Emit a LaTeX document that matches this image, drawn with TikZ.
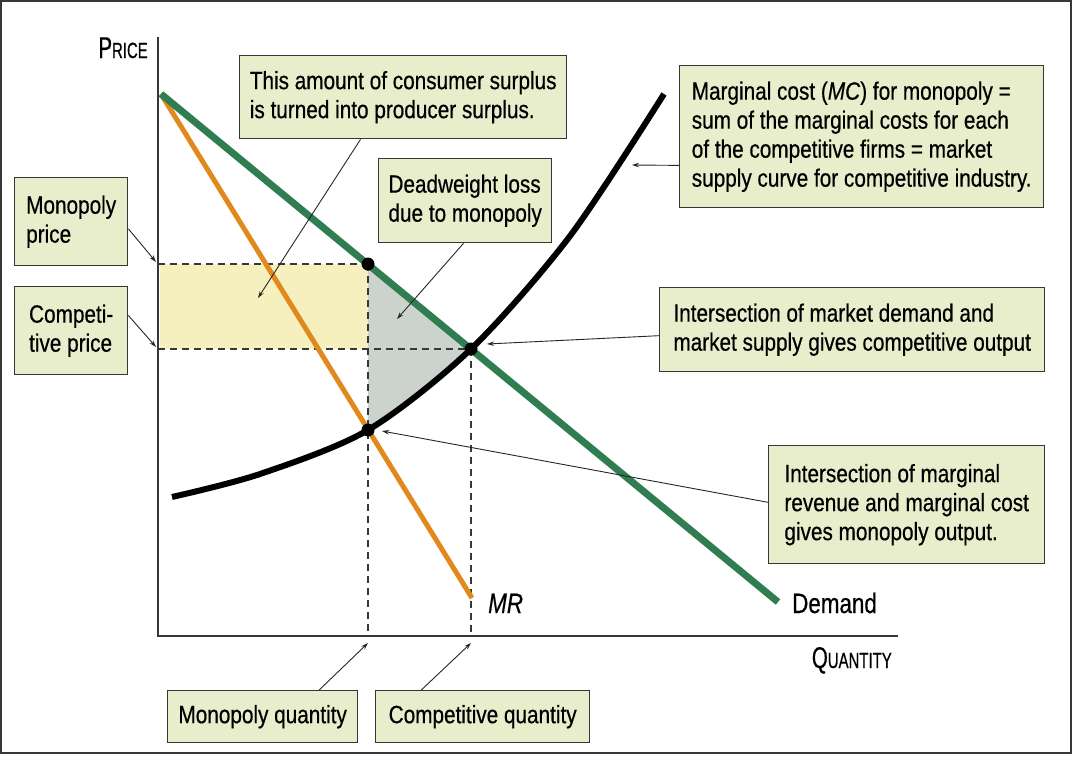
\documentclass[tikz,border=0pt]{standalone}
\usepackage{fontspec}
\setmainfont{Liberation Sans}[FakeStretch=0.83,FakeBold=0.5]
\newfontfamily\condfont{Liberation Sans}[FakeStretch=0.68,FakeBold=0.5]
\newfontfamily\labfont{Liberation Sans}[FakeStretch=0.80,FakeBold=0.5]
\usetikzlibrary{arrows.meta,calc}
\definecolor{boxfill}{RGB}{232,237,204}
\definecolor{demandgreen}{RGB}{47,125,80}
\definecolor{mrorange}{RGB}{226,137,30}
\definecolor{surplusyellow}{RGB}{246,239,190}
\definecolor{dwlgray}{RGB}{203,211,204}
\definecolor{edge}{RGB}{55,55,55}
\begin{document}
\begin{tikzpicture}[x=1pt,y=-1pt,
  box/.style={draw=edge, line width=1.4pt, fill=boxfill, anchor=north west, align=left,
    inner xsep=8pt, inner ysep=0pt, font=\fontsize{25}{29}\selectfont, text=black},
  pointer/.style={draw=black!85, line width=0.9pt, -{Stealth[length=7pt,width=4.5pt]}},
  guide/.style={draw=edge, line width=1.3pt, dash pattern=on 7pt off 5pt},
  axisline/.style={draw=edge, line width=1.5pt},
  curvelabel/.style={font=\labfont\fontsize{28}{28}\selectfont, text=black, inner sep=0pt},
  axislabel/.style={text=black, inner sep=0pt}]
\useasboundingbox (0,0) rectangle (1072,758);
\draw[line width=2pt, edge] (1,1) rectangle (1071,753);

% key points
\coordinate (top) at (161,94);
\coordinate (dend) at (778,602);
\coordinate (mrend) at (472,598);
\coordinate (Pm) at (368,264);
\coordinate (Pc) at (471,349);
\coordinate (Pmc) at (368,430);
\coordinate (ytop) at (158,37);
\coordinate (origin) at (158,636);
\coordinate (xend) at (898,636);

% fills
\fill[surplusyellow] (160,264) rectangle (368,349);
\begin{scope}
  \clip plot[smooth] coordinates {(172,497) (260,474) (368,430) (471,349) (570,236) (664,94)}
     -- (664,0) -- (100,0) -- (100,497) -- cycle;
  \fill[dwlgray] (Pm) -- (Pc) -- (471,470) -- (368,470) -- cycle;
\end{scope}

% guides
\draw[guide] (158,264) -- (Pm);
\draw[guide] (158,349) -- (Pc);
\draw[guide] (Pm) -- (Pm |- origin);
\draw[guide] (Pc) -- (Pc |- origin);

% axes
\draw[axisline] (ytop) -- (origin) -- (xend);

% curves
\draw[mrorange, line width=5pt] (top) -- (mrend);
\draw[demandgreen, line width=7pt] (top) -- (dend);
\draw[black, line width=6pt] plot[smooth] coordinates {(172,497) (260,474) (368,430) (471,349) (570,236) (664,94)};

% dots
\fill (Pm) circle[radius=6.5pt];
\fill (Pc) circle[radius=6.5pt];
\fill (Pmc) circle[radius=6.5pt];

% labels
\node[curvelabel, anchor=base west] (mrlab) at (488,613) {\itshape MR};
\node[curvelabel, anchor=base west] (dlab) at (792,613) {Demand};
\node[axislabel, anchor=base east] (plab) at (148,58) {\condfont\fontsize{30}{30}\selectfont P\fontsize{22}{22}\selectfont RICE};
\node[axislabel, anchor=base east] (qlab) at (892,668) {\condfont\fontsize{30}{30}\selectfont Q\fontsize{22}{22}\selectfont UANTITY};

% boxes
\node[box, minimum width=327pt, minimum height=83pt] (cs) at (239,55)
  {This amount of consumer surplus\\is turned into producer surplus.};
\node[box, minimum width=173pt, minimum height=84pt] (dwl) at (378,158)
  {Deadweight loss\\due to monopoly};
\node[box, minimum width=364pt, minimum height=142pt] (mc) at (679,65)
  {Marginal cost (\textit{MC}) for monopoly =\\sum of the marginal costs for each\\of the competitive firms = market\\supply curve for competitive industry.};
\node[box, minimum width=385pt, minimum height=84pt] (ci) at (659,287)
  {Intersection of market demand and\\market supply gives competitive output};
\node[box, minimum width=276pt, minimum height=118pt] (mi) at (768,445)
  {Intersection of marginal\\revenue and marginal cost\\gives monopoly output.};
\node[box, minimum width=113pt, minimum height=88pt] (mp) at (14,177)
  {Monopoly\\price};
\node[box, minimum width=113pt, minimum height=88pt] (cp) at (14,286)
  {Competi-\\tive price};
\node[box, minimum width=190pt, minimum height=52pt] (mq) at (167,690)
  {Monopoly quantity};
\node[box, minimum width=214pt, minimum height=52pt] (cq) at (375,690)
  {Competitive quantity};

% pointer targets
\coordinate (csT) at (258,298);
\coordinate (dwlT) at (397,319);
\coordinate (mcT) at (632,165);
\coordinate (ciT) at (487,344);
\coordinate (miT) at (382,431);
\coordinate (mpT) at (156,262);
\coordinate (cpT) at (156,347);
\coordinate (mqT) at (368,643);
\coordinate (cqT) at (471,643);

% pointers
\draw[pointer] ($(cs.south west)!0.37!(cs.south east)$) -- (csT);
\draw[pointer] ($(dwl.south west)!0.49!(dwl.south east)$) -- (dwlT);
\draw[pointer] ($(mc.north west)!0.70!(mc.south west)$) -- (mcT);
\draw[pointer] ($(ci.north west)!0.57!(ci.south west)$) -- (ciT);
\draw[pointer] ($(mi.north west)!0.48!(mi.south west)$) -- (miT);
\draw[pointer] ($(mp.north east)!0.58!(mp.south east)$) -- (mpT);
\draw[pointer] ($(cp.north east)!0.33!(cp.south east)$) -- (cpT);
\draw[pointer] ($(mq.north west)!0.795!(mq.north east)$) -- (mqT);
\draw[pointer] ($(cq.north west)!0.215!(cq.north east)$) -- (cqT);
\end{tikzpicture}
\end{document}
